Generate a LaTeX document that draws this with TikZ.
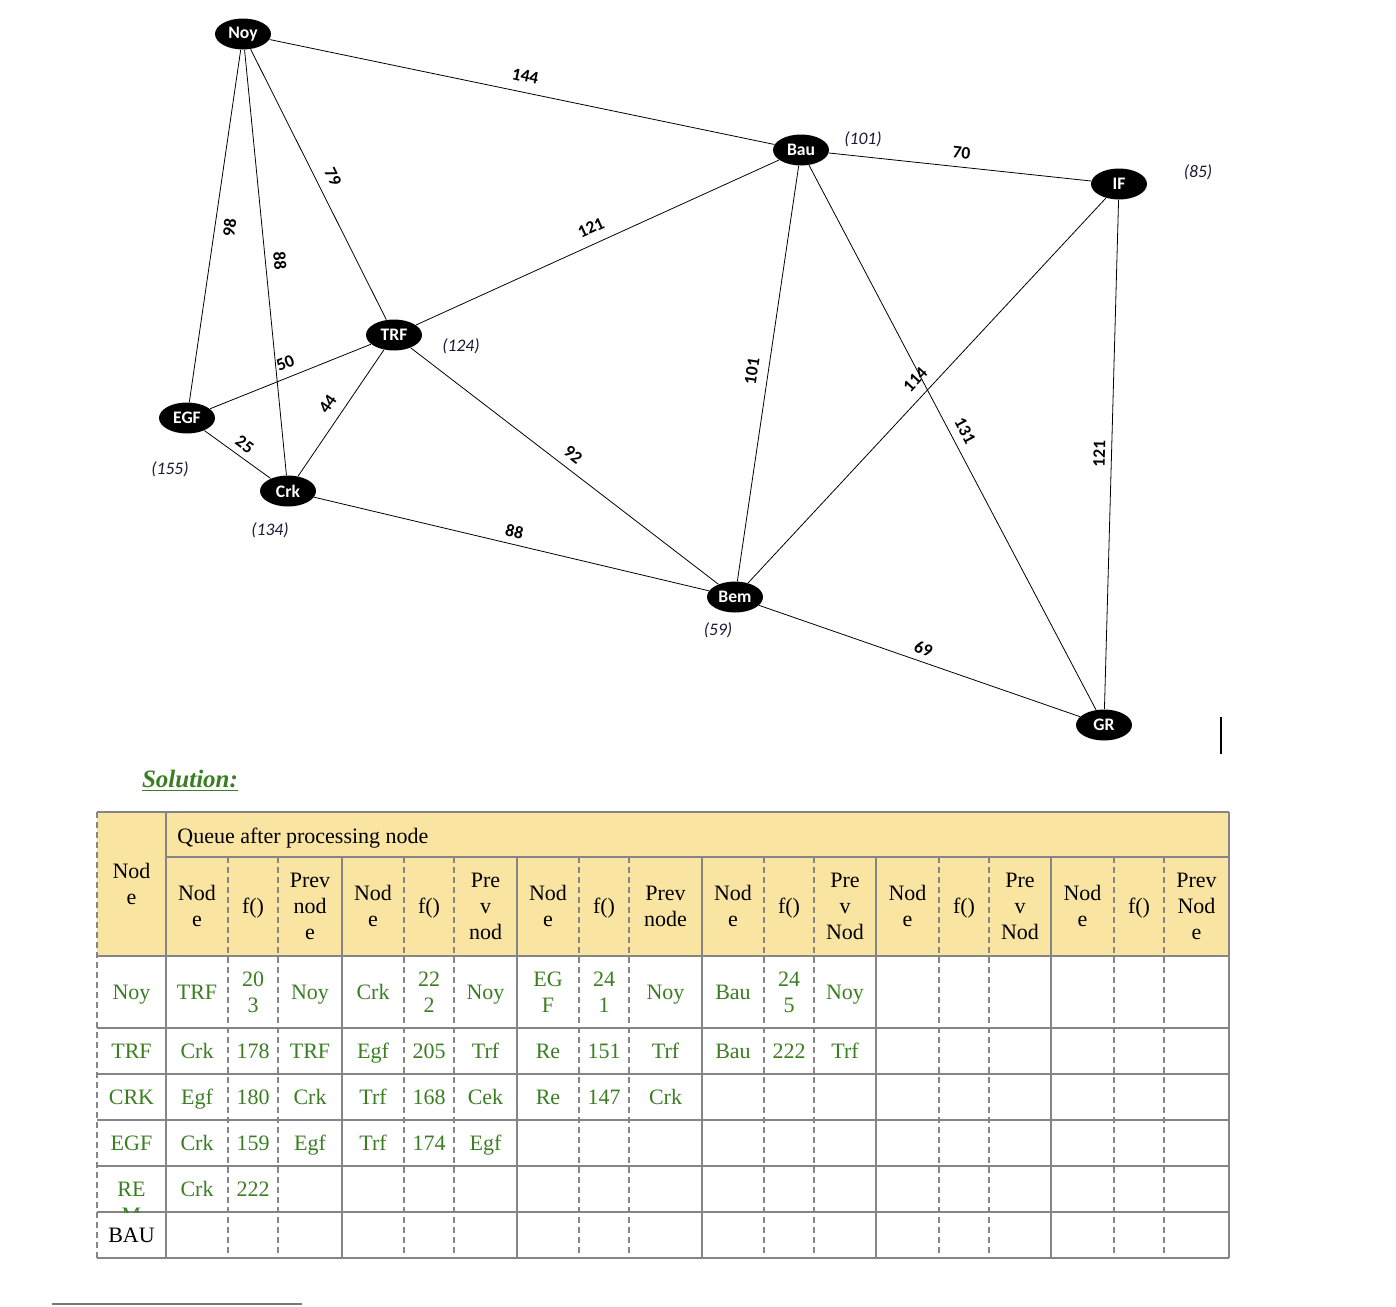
\documentclass[tikz,border=0pt]{standalone}
\usepackage{fontspec}
\setmainfont{Liberation Serif}
\newfontfamily\carlito{Carlito}
\usetikzlibrary{shapes.geometric}

\definecolor{solgreen}{HTML}{3A7D22}
\definecolor{headyellow}{HTML}{FAE4A2}
\definecolor{gridgray}{HTML}{858585}
\definecolor{hnavy}{HTML}{1A1A38}

\tikzset{
  city/.style={ellipse, fill=black, text=white, inner sep=0pt,
    minimum width=28pt, minimum height=15.5pt,
    font=\carlito\bfseries\fontsize{8.8}{10}\selectfont},
  road/.style={line width=0.4pt},
  dist/.style={sloped, inner sep=1pt, font=\carlito\bfseries\fontsize{8.8}{10}\selectfont},
  heur/.style={text=hnavy, font=\carlito\itshape\fontsize{8.8}{10}\selectfont},
  rule/.style={draw=gridgray, line width=0.65pt},
  dashrule/.style={draw=gridgray, line width=0.6pt, dash pattern=on 3pt off 2pt},
  cell/.style={align=center, inner sep=0pt, text depth=0pt, text=solgreen,
    font=\fontsize{11}{13}\selectfont},
  hcell/.style={cell, text=black}
}

\begin{document}
\begin{tikzpicture}[x=0.5pt, y=-0.5pt]
	\useasboundingbox (0,0) rectangle (1396,1306);
	% the cities
	\node[city] (noy) at (243,34) {Noy};
	\node[city] (bau) at (801,150) {Bau};
	\node[city] (ifn) at (1119,184) {IF};
	\node[city] (trf) at (394,335) {TRF};
	\node[city] (egf) at (187,418) {EGF};
	\node[city] (crk) at (288,491) {Crk};
	\node[city] (bem) at (735,597) {Bem};
	\node[city] (gr) at (1104,725) {GR};
	% the roads with their lengths
	\draw[road] (noy) -- node[dist, above=4pt] {144} (bau);
	\draw[road] (noy) -- node[dist, below=3pt] {98} (egf);
	\draw[road] (noy) -- node[dist, above=3pt] {88} (crk);
	\draw[road] (noy) -- node[dist, above=4pt] {79} (trf);
	\draw[road] (trf) -- node[dist, above=4pt] {121} (bau);
	\draw[road] (trf) -- node[dist, above=3pt] {50} (egf);
	\draw[road] (trf) -- node[dist, above=4pt] {44} (crk);
	\draw[road] (trf) -- node[dist, above=3pt] {92} (bem);
	\draw[road] (egf) -- node[dist, above=2pt] {25} (crk);
	\draw[road] (crk) -- node[dist, above=2pt] {88} (bem);
	\draw[road] (bau) -- node[dist, above=3pt] {70} (ifn);
	\draw[road] (bau) -- node[dist, above=4pt] {101} (bem);
	\draw[road] (bau) -- node[dist, above=3pt] {131} (gr);
	\draw[road] (ifn) -- node[dist, above=4pt] {114} (bem);
	\draw[road] (ifn) -- node[dist, above=2pt] {121} (gr);
	\draw[road] (bem) -- node[dist, above=2pt] {69} (gr);
	% the estimates
	\node[heur] (hbau) at (863,139) {(101)};
	\node[heur] (hif) at (1198,172) {(85)};
	\node[heur] (htrf) at (461,346) {(124)};
	\node[heur] (hegf) at (170,469) {(155)};
	\node[heur] (hcrk) at (270,530) {(134)};
	\node[heur] (hbem) at (718,630) {(59)};
	% cursor
	\draw[line width=1pt] (1221,717) -- (1221,754);

	\node[text=solgreen, font=\bfseries\itshape\fontsize{12.5}{15}\selectfont] (sol) at (190,781) {\underline{Solution:}};

	% the table
	\fill[headyellow] (97,812) rectangle (1229,956);
	\draw[rule] (97,812) -- (1229,812);
	\draw[rule] (166,857) -- (1229,857);
	\foreach \y in {956,1028,1074,1120,1166,1212,1258}
		\draw[rule] (97,\y) -- (1229,\y);
	\draw[rule] (166,812) -- (166,1258);
	\draw[rule] (1229,812) -- (1229,1258);
	\foreach \x in {342,517,702,876,1051}
		\draw[rule] (\x,857) -- (\x,1258);
	\draw[dashrule] (97,812) -- (97,1258);
	\foreach \x in {228,278,404,454,579,629,764,814,939,989,1114,1164}
		\draw[dashrule] (\x,857) -- (\x,1258);

	% header
	\node[hcell] (hnode) at (131.5,884) {Nod\\e};
	\node[hcell, anchor=west] (hqueue) at (177,836) {Queue after processing node};
	\foreach \x/\t [count=\c] in {197/{Nod\\e}, 253/f(), 310/{Prev\\nod\\e},
		373/{Nod\\e}, 429/f(), 485.5/{Pre\\v\\nod},
		548/{Nod\\e}, 604/f(), 665.5/{Prev\\node},
		733/{Nod\\e}, 789/f(), 845/{Pre\\v\\Nod},
		907.5/{Nod\\e}, 964/f(), 1020/{Pre\\v\\Nod},
		1082.5/{Nod\\e}, 1139/f(), 1196.5/{Prev\\Nod\\e}}
		\node[hcell] (sub\c) at (\x,906) {\t};

	% rows
	\foreach \x/\t [count=\c] in {131.5/Noy, 197/TRF, 253/{20\\3}, 310/Noy,
		373/Crk, 429/{22\\2}, 485.5/Noy, 548/{EG\\F}, 604/{24\\1}, 665.5/Noy,
		733/Bau, 789/{24\\5}, 845/Noy}
		\node[cell] (ra\c) at (\x,992) {\t};
	\foreach \x/\t [count=\c] in {131.5/TRF, 197/Crk, 253/178, 310/TRF,
		373/Egf, 429/205, 485.5/Trf, 548/Re, 604/151, 665.5/Trf,
		733/Bau, 789/222, 845/Trf}
		\node[cell] (rb\c) at (\x,1051) {\t};
	\foreach \x/\t [count=\c] in {131.5/CRK, 197/Egf, 253/180, 310/Crk,
		373/Trf, 429/168, 485.5/Cek, 548/Re, 604/147, 665.5/Crk}
		\node[cell] (rc\c) at (\x,1097) {\t};
	\foreach \x/\t [count=\c] in {131.5/EGF, 197/Crk, 253/159, 310/Egf,
		373/Trf, 429/174, 485.5/Egf}
		\node[cell] (rd\c) at (\x,1143) {\t};
	\begin{scope}
		\clip (97,1166) rectangle (166,1212);
		\node[cell] (re1) at (131.5,1202) {RE\\M};
	\end{scope}
	\node[cell] (re2) at (197,1189) {Crk};
	\node[cell] (re3) at (253,1189) {222};
	\node[hcell] (rf1) at (131.5,1235) {BAU};

	% footnote rule
	\draw[draw=gridgray!90!black, line width=0.7pt] (52,1304) -- (302,1304);
\end{tikzpicture}
\end{document}
